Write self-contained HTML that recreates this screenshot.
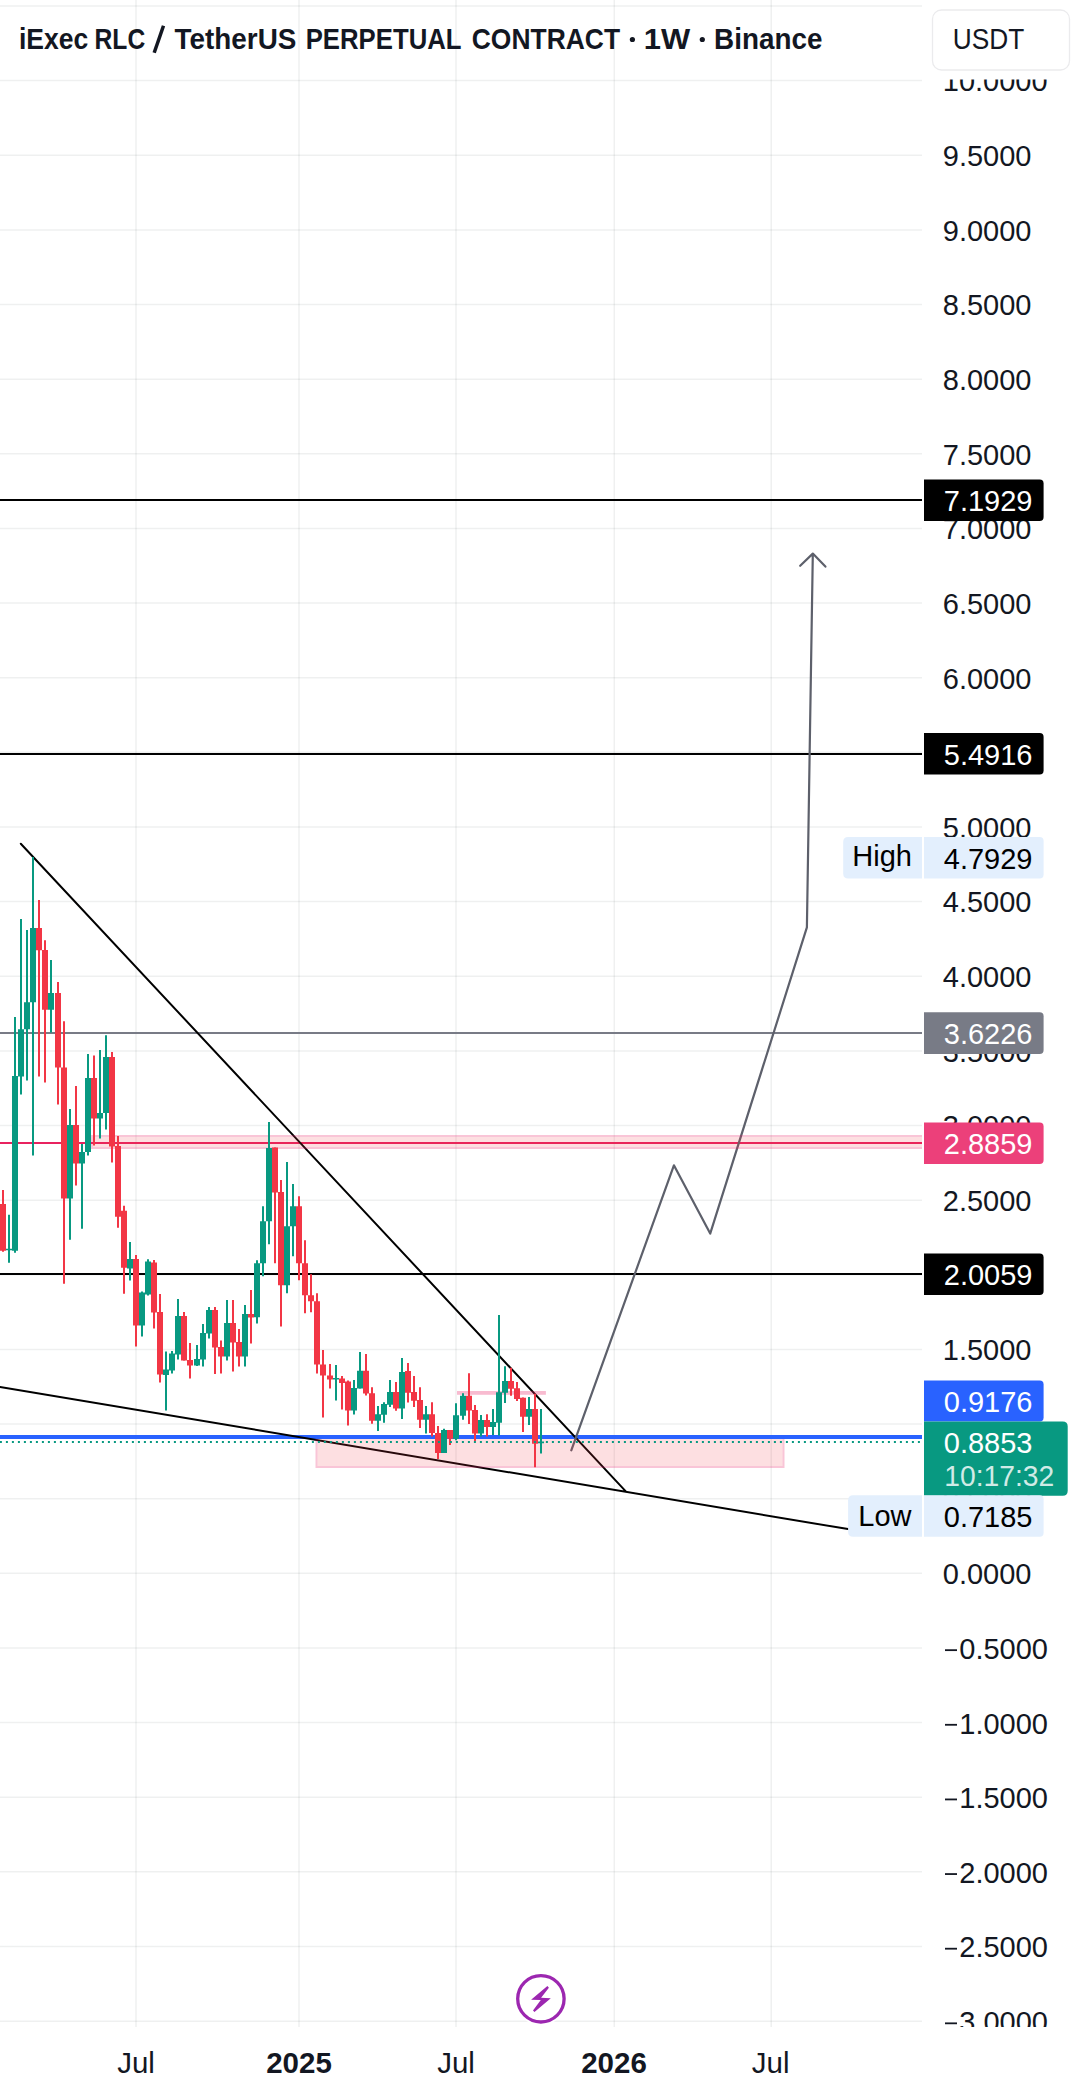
<!DOCTYPE html><html><head><meta charset="utf-8"><style>
html,body{margin:0;padding:0;background:#fff;width:1079px;height:2096px;overflow:hidden}
svg{position:absolute;left:0;top:0}
text{font-family:"Liberation Sans",sans-serif}
</style></head><body>
<svg width="1079" height="2096" viewBox="0 0 1079 2096">
<rect x="0" y="0" width="1079" height="2096" fill="#fff"/>
<path d="M0 5.99H922 M0 80.62H922 M0 155.26H922 M0 229.89H922 M0 304.53H922 M0 379.17H922 M0 453.8H922 M0 528.44H922 M0 603.07H922 M0 677.71H922 M0 752.34H922 M0 826.98H922 M0 901.61H922 M0 976.25H922 M0 1050.88H922 M0 1125.52H922 M0 1200.15H922 M0 1274.79H922 M0 1349.42H922 M0 1424.06H922 M0 1498.69H922 M0 1573.33H922 M0 1647.96H922 M0 1722.6H922 M0 1797.23H922 M0 1871.87H922 M0 1946.5H922 M0 2021.13H922" stroke="#2a3a39" stroke-opacity="0.075" stroke-width="1.5" fill="none"/>
<path d="M136 0V2027 M299 0V2027 M456 0V2027 M614.3 0V2027 M771.2 0V2027" stroke="#2a3a39" stroke-opacity="0.075" stroke-width="1.5" fill="none"/>
<path d="M0 500H922M0 754H922M0 1274H922" stroke="#000" stroke-width="2" fill="none"/>
<path d="M0 1033H922" stroke="#787b86" stroke-width="2" fill="none"/>
<path d="M0 1143H922" stroke="#e8235f" stroke-width="2" fill="none"/>
<path d="M0 1437H922" stroke="#2962ff" stroke-width="4" fill="none"/>
<path d="M20.8 843.7L625.8 1491.4M0 1386.9L848 1529.1" stroke="#000" stroke-width="2" fill="none" stroke-linecap="round"/>
<path d="M571.3 1450.3L673.9 1165.3L710.2 1233.6L806.9 927.4L812.8 554.5M800.2 565.8L812.8 553.6L825.4 566.6" stroke="#5d606b" stroke-width="2.2" fill="none" stroke-linejoin="round" stroke-linecap="round"/>
<rect x="93" y="1137" width="829" height="10" fill="#f23645" fill-opacity="0.16"/>
<path d="M91 1135H922V1137H93V1147H922V1149H91Z" fill="#e91e63" fill-opacity="0.26"/>
<rect x="317.5" y="1439" width="465.0" height="27" fill="#f23645" fill-opacity="0.16"/>
<path d="M315.5 1439H317.5V1466H782.5V1439H784.5V1468H315.5Z" fill="#e91e63" fill-opacity="0.26"/>
<rect x="457" y="1391" width="88.89999999999998" height="3.8" fill="#e91e63" fill-opacity="0.3"/>
<path d="M9 1214.7V1262.8M15 1017V1252.7M21 919V1094.4M27 930V1080.4M33 857V1155.5M51 960V1032.6M70 1109V1239.7M82 1144.1V1228.7M88 1054V1155.5M100 1049.9V1138.5M106 1035.3V1129.5M130 1241.9V1280.4M142 1291.4V1336.5M148 1259.3V1295.4M166 1351.5V1410.4M172 1351V1373.5M178 1299V1359.5M197 1345V1366M203 1324V1366.5M209 1307V1338.5M227 1300V1360.5M245 1305V1366.5M257 1260.3V1323.4M263 1206.2V1276.3M269 1122V1244.2M287 1162.1V1293.3M293 1184.1V1256.3M336 1365V1400.5M354 1380V1414.5M360 1352V1388.5M378 1406.1V1431M384 1402.2V1422.8M390 1380V1406.9M402 1358V1418.9M426 1406.1V1433.5M444 1428.8V1452.9M456 1403.2V1440.2M463 1393.3V1419.8M481 1415V1436.6M493 1409.1V1435.1M499 1315.1V1435.6M505 1366.3V1403M529 1396.9V1424.9M541 1409.1V1453.4" stroke="#089981" stroke-width="2.0" fill="none"/>
<path d="M3 1190.1V1251.8M39 900V1076.4M45 940.2V1082.4M58 982V1104.4M64 1021.2V1283.8M76 1086V1185.6M94 1055.4V1145.5M112 1052V1162.6M118 1136.1V1227.7M124 1205.7V1293.8M136 1255V1346.5M154 1260V1328.5M160 1294V1382.5M184 1312V1360.5M190 1343V1378.5M215 1307V1374.1M221 1340.5V1373.5M233 1300V1371.5M239 1329V1366.5M251 1290V1343.5M275 1147.5V1263.3M281 1180.1V1326.4M299 1196.2V1280.3M305 1240.2V1313.3M311 1274.3V1312.3M317 1293.3V1373.4M323 1350V1417.5M330 1364V1388.5M342 1376V1409.5M348 1380.5V1425.5M366 1354V1395.5M372 1387.2V1423.7M396 1382V1410.8M408 1363.1V1402.6M414 1376V1406.9M420 1387.2V1428M432 1402.2V1436.6M438 1426.1V1458.9M450 1430.1V1445.1M469 1373.2V1423.9M475 1405V1441.2M487 1414.2V1436.6M511 1367.8V1395.8M517 1382.1V1400.9M523 1397.4V1432M535 1393.8V1467.2" stroke="#f23645" stroke-width="2.0" fill="none"/>
<path d="M6 1248.7h6v1.6h-6zM12 1076h6v174.7h-6zM18 1029.3h6v47.1h-6zM24 1002.2h6v27.1h-6zM30 928h6v74.2h-6zM48 993.1h6v16.7h-6zM67 1124.9h6v73.7h-6zM79 1152.1h6v11.5h-6zM85 1078h6v74.1h-6zM97 1112.9h6v5.6h-6zM103 1057h6v55.9h-6zM127 1259h6v9.4h-6zM139 1292.4h6v33.1h-6zM145 1261.4h6v33h-6zM163 1369.5h6v5.5h-6zM169 1353.5h6v17h-6zM175 1316h6v38.5h-6zM194 1358.9h6v6.6h-6zM200 1332.9h6v26.6h-6zM206 1310h6v23.5h-6zM224 1322.9h6v33.6h-6zM242 1314h6v42.5h-6zM254 1263.3h6v54h-6zM260 1221.2h6v42.1h-6zM266 1148.1h6v73.1h-6zM284 1226.2h6v59.1h-6zM290 1206.2h6v20h-6zM333 1378h6v1.5h-6zM351 1388h6v22.5h-6zM357 1370.8h6v17.7h-6zM375 1414.2h6v6.5h-6zM381 1403.9h6v10.8h-6zM387 1392.1h6v12.7h-6zM399 1372.1h6v36.5h-6zM423 1414.2h6v5.6h-6zM441 1430.1h6v22.8h-6zM453 1415.2h6v23.5h-6zM460 1395.8h6v19.9h-6zM478 1420.1h6v13.5h-6zM490 1422.1h6v4.8h-6zM496 1392.3h6v30.5h-6zM502 1381h6v11.8h-6zM526 1409.1h6v7.6h-6zM538 1441.6h6v1.6h-6z" fill="#089981"/>
<path d="M0 1204.1h6v46.6h-6zM36 928h6v22.3h-6zM42 950.1h6v59.7h-6zM55 993.1h6v74.4h-6zM61 1067.5h6v131.1h-6zM73 1124.9h6v38.7h-6zM91 1078h6v40.5h-6zM109 1057h6v89.5h-6zM115 1146.1h6v70.6h-6zM121 1210.7h6v57.1h-6zM133 1259h6v66.5h-6zM151 1262.4h6v50h-6zM157 1312h6v62.5h-6zM181 1316h6v44.5h-6zM187 1360h6v5.5h-6zM212 1310h6v37.5h-6zM218 1346.9h6v9.6h-6zM230 1322.9h6v19.6h-6zM236 1342.1h6v14.4h-6zM248 1314h6v3.4h-6zM272 1147.5h6v45h-6zM278 1192.1h6v93.2h-6zM296 1206.2h6v57.1h-6zM302 1263.3h6v32h-6zM308 1295.3h6v6h-6zM314 1301.3h6v63.1h-6zM320 1364.4h6v11h-6zM327 1375.4h6v4h-6zM339 1378.4h6v4.5h-6zM345 1381.5h6v29h-6zM363 1370.8h6v22.7h-6zM369 1393.2h6v27.5h-6zM393 1392.1h6v16.5h-6zM405 1371.1h6v21.7h-6zM411 1392.1h6v8.6h-6zM417 1400h6v19.8h-6zM429 1414.2h6v18.9h-6zM435 1433.1h6v19.8h-6zM447 1430.1h6v8.6h-6zM466 1395.8h6v14.8h-6zM472 1410.1h6v23.5h-6zM484 1420.1h6v6.8h-6zM508 1381h6v7.7h-6zM514 1388.2h6v10.7h-6zM520 1397.7h6v19h-6zM532 1409.1h6v34.6h-6z" fill="#f23645"/>
<path d="M0 1442H922" stroke="#089981" stroke-width="2" stroke-dasharray="2 4" fill="none" transform="translate(-0.1 0)"/>
<circle cx="540.9" cy="1998.8" r="26.5" fill="#fff"/>
<circle cx="540.9" cy="1998.8" r="23.2" fill="none" stroke="#9c27b0" stroke-width="3.3"/>
<path d="M547.4 1985.9L548.9 1987.8L541.1 1997.8L550.8 1998.2L534.5 2011.9L533 2010.4L540.8 2000L531.1 1999.7Z" fill="#9c27b0"/>
<rect x="0" y="0" width="0" height="0" fill="none"/>
<g><text x="19.01" y="48.7" font-size="30" font-weight="bold" fill="#131722" textLength="69.3" lengthAdjust="spacingAndGlyphs">iExec</text><text x="94.54" y="48.7" font-size="30" font-weight="bold" fill="#131722" textLength="50.64" lengthAdjust="spacingAndGlyphs">RLC</text><text x="174.6" y="48.7" font-size="30" font-weight="bold" fill="#131722" textLength="121.79" lengthAdjust="spacingAndGlyphs">TetherUS</text><text x="305.66" y="48.7" font-size="30" font-weight="bold" fill="#131722" textLength="155.87" lengthAdjust="spacingAndGlyphs">PERPETUAL</text><text x="471.76" y="48.7" font-size="30" font-weight="bold" fill="#131722" textLength="148.33" lengthAdjust="spacingAndGlyphs">CONTRACT</text><text x="643.79" y="48.7" font-size="30" font-weight="bold" fill="#131722" textLength="46.41" lengthAdjust="spacingAndGlyphs">1W</text><text x="714.11" y="48.7" font-size="30" font-weight="bold" fill="#131722" textLength="108.32" lengthAdjust="spacingAndGlyphs">Binance</text></g>
<path d="M154.2 52.8L163.5 25.8" stroke="#131722" stroke-width="3.5"/>
<circle cx="632.4" cy="39.5" r="2.6" fill="#131722"/><circle cx="702.3" cy="39.5" r="2.6" fill="#131722"/>
<g><text x="942.8" y="91.42" font-size="29" fill="#131722">10.0000</text><text x="942.8" y="166.06" font-size="29" fill="#131722">9.5000</text><text x="942.8" y="240.69" font-size="29" fill="#131722">9.0000</text><text x="942.8" y="315.33" font-size="29" fill="#131722">8.5000</text><text x="942.8" y="389.97" font-size="29" fill="#131722">8.0000</text><text x="942.8" y="464.6" font-size="29" fill="#131722">7.5000</text><text x="942.8" y="539.24" font-size="29" fill="#131722">7.0000</text><text x="942.8" y="613.87" font-size="29" fill="#131722">6.5000</text><text x="942.8" y="688.5" font-size="29" fill="#131722">6.0000</text><text x="942.8" y="763.14" font-size="29" fill="#131722">5.5000</text><text x="942.8" y="837.77" font-size="29" fill="#131722">5.0000</text><text x="942.8" y="912.41" font-size="29" fill="#131722">4.5000</text><text x="942.8" y="987.05" font-size="29" fill="#131722">4.0000</text><text x="942.8" y="1061.68" font-size="29" fill="#131722">3.5000</text><text x="942.8" y="1136.32" font-size="29" fill="#131722">3.0000</text><text x="942.8" y="1210.95" font-size="29" fill="#131722">2.5000</text><text x="942.8" y="1285.59" font-size="29" fill="#131722">2.0000</text><text x="942.8" y="1360.22" font-size="29" fill="#131722">1.5000</text><text x="942.8" y="1509.49" font-size="29" fill="#131722">0.5000</text><text x="942.8" y="1584.12" font-size="29" fill="#131722">0.0000</text><rect x="945" y="1649.26" width="12" height="1.8" fill="#131722"/><text x="959.3" y="1658.86" font-size="29" fill="#131722">0.5000</text><rect x="945" y="1723.89" width="12" height="1.8" fill="#131722"/><text x="959.3" y="1733.5" font-size="29" fill="#131722">1.0000</text><rect x="945" y="1798.53" width="12" height="1.8" fill="#131722"/><text x="959.3" y="1808.13" font-size="29" fill="#131722">1.5000</text><rect x="945" y="1873.16" width="12" height="1.8" fill="#131722"/><text x="959.3" y="1882.77" font-size="29" fill="#131722">2.0000</text><rect x="945" y="1947.8" width="12" height="1.8" fill="#131722"/><text x="959.3" y="1957.4" font-size="29" fill="#131722">2.5000</text><rect x="945" y="2022.43" width="12" height="1.8" fill="#131722"/><text x="959.3" y="2032.04" font-size="29" fill="#131722">3.0000</text></g>
<rect x="922" y="0" width="157" height="79.5" fill="#fff"/>
<rect x="932.5" y="10" width="137" height="60" rx="9" fill="#fff" stroke="#ebebed" stroke-width="1.3"/>
<text x="952.8" y="49" font-size="29.3" fill="#131722" textLength="71.5" lengthAdjust="spacingAndGlyphs">USDT</text>
<path d="M924 479.4H1039.6Q1043.6 479.4 1043.6 483.4V516.9Q1043.6 520.9 1039.6 520.9H924Z" fill="#000"/>
<text x="943.8" y="510.95" font-size="29" fill="#fff">7.1929</text>
<path d="M924 733H1039.6Q1043.6 733 1043.6 737V770.6Q1043.6 774.6 1039.6 774.6H924Z" fill="#000"/>
<text x="943.8" y="764.8" font-size="29" fill="#fff">5.4916</text>
<path d="M848.2 836.9H922V878.5H848.2Q843.2 878.5 843.2 873.5V841.9Q843.2 836.9 848.2 836.9Z" fill="#e3effd"/>
<text x="852.3" y="865.6" font-size="29" fill="#000">High</text>
<path d="M924 836.9H1039.6Q1043.6 836.9 1043.6 840.9V874.5Q1043.6 878.5 1039.6 878.5H924Z" fill="#e3effd"/>
<text x="943.8" y="868.7" font-size="29" fill="#000">4.7929</text>
<path d="M924 1012.3H1039.6Q1043.6 1012.3 1043.6 1016.3V1049.9Q1043.6 1053.9 1039.6 1053.9H924Z" fill="#787b86"/>
<text x="943.8" y="1044.1" font-size="29" fill="#fff">3.6226</text>
<path d="M924 1122.4H1039.6Q1043.6 1122.4 1043.6 1126.4V1159.9Q1043.6 1163.9 1039.6 1163.9H924Z" fill="#ec407a"/>
<text x="943.8" y="1154.15" font-size="29" fill="#fff">2.8859</text>
<path d="M924 1253.5H1039.6Q1043.6 1253.5 1043.6 1257.5V1291Q1043.6 1295 1039.6 1295H924Z" fill="#000"/>
<text x="943.8" y="1285.25" font-size="29" fill="#fff">2.0059</text>
<path d="M924 1380.4H1039.6Q1043.6 1380.4 1043.6 1384.4V1417.6Q1043.6 1421.6 1039.6 1421.6H924Z" fill="#2962ff"/>
<text x="943.8" y="1412" font-size="29" fill="#fff">0.9176</text>
<path d="M924 1421.4H1062.7Q1067.7 1421.4 1067.7 1426.4V1490.8Q1067.7 1495.8 1062.7 1495.8H924Z" fill="#089981"/>
<text x="943.8" y="1453" font-size="29" fill="#fff">0.8853</text>
<text x="944.3" y="1486" font-size="29" fill="#fff" fill-opacity="0.82" textLength="110" lengthAdjust="spacingAndGlyphs">10:17:32</text>
<path d="M853.1 1495.2H922V1536.7H853.1Q848.1 1536.7 848.1 1531.7V1500.2Q848.1 1495.2 853.1 1495.2Z" fill="#e3effd"/>
<text x="858.3" y="1526" font-size="29" fill="#000">Low</text>
<path d="M924 1495.2H1039.6Q1043.6 1495.2 1043.6 1499.2V1532.7Q1043.6 1536.7 1039.6 1536.7H924Z" fill="#e3effd"/>
<text x="943.8" y="1526.9" font-size="29" fill="#000">0.7185</text>
<rect x="0" y="2027" width="1079" height="69" fill="#fff"/>
<text x="136" y="2073" font-size="29.5" fill="#131722" text-anchor="middle">Jul</text>
<text x="299" y="2073" font-size="29.5" font-weight="bold" fill="#131722" text-anchor="middle">2025</text>
<text x="456" y="2073" font-size="29.5" fill="#131722" text-anchor="middle">Jul</text>
<text x="614" y="2073" font-size="29.5" font-weight="bold" fill="#131722" text-anchor="middle">2026</text>
<text x="770.7" y="2073" font-size="29.5" fill="#131722" text-anchor="middle">Jul</text>
</svg></body></html>
